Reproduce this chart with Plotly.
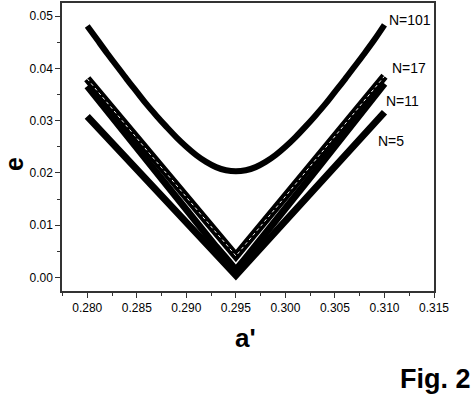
import plotly.graph_objects as go

a_vals = [0.280, 0.281, 0.282, 0.283, 0.284, 0.285, 0.286, 0.287, 0.288, 0.289,
          0.290, 0.291, 0.292, 0.293, 0.294, 0.295, 0.296, 0.297, 0.298, 0.299,
          0.300, 0.301, 0.302, 0.303, 0.304, 0.305, 0.306, 0.307, 0.308, 0.309, 0.310]

e_n5 = [0.0308, 0.0288, 0.0268, 0.0247, 0.0227, 0.0207, 0.0186, 0.0166, 0.0146, 0.0126,
        0.0105, 0.0085, 0.0065, 0.0045, 0.0024, 0.0004,
        0.0025, 0.0046, 0.0066, 0.0087, 0.0108, 0.0129, 0.0150, 0.0171, 0.0191,
        0.0212, 0.0233, 0.0254, 0.0275, 0.0296, 0.0316]

e_n11 = [0.0366, 0.0342, 0.0319, 0.0295, 0.0272, 0.0248, 0.0224, 0.0201, 0.0177, 0.0153,
         0.0130, 0.0106, 0.0083, 0.0059, 0.0037, 0.0014,
         0.0037, 0.0060, 0.0084, 0.0108, 0.0132, 0.0156, 0.0180, 0.0203, 0.0227,
         0.0251, 0.0275, 0.0299, 0.0323, 0.0347, 0.0371]

e_n17 = [0.0380, 0.0357, 0.0335, 0.0312, 0.0289, 0.0267, 0.0244, 0.0221, 0.0199, 0.0176,
         0.0153, 0.0131, 0.0108, 0.0086, 0.0064, 0.0041,
         0.0064, 0.0086, 0.0109, 0.0132, 0.0155, 0.0178, 0.0201, 0.0224, 0.0247,
         0.0270, 0.0293, 0.0316, 0.0339, 0.0362, 0.0385]

e_n101 = [0.0481, 0.0455, 0.0429, 0.0404, 0.0379, 0.0355, 0.0331, 0.0309, 0.0288, 0.0268,
          0.0250, 0.0234, 0.0221, 0.0211, 0.0205, 0.0203,
          0.0205, 0.0211, 0.0221, 0.0234, 0.0250, 0.0268, 0.0288, 0.0309, 0.0331,
          0.0355, 0.0379, 0.0404, 0.0429, 0.0455, 0.0483]

series_names = ["N=5", "N=11", "N=17", "N=101"]
label_x = [0.30911, 0.30995, 0.31056, 0.31025]
label_y = [0.0261, 0.0337, 0.0400, 0.0493]

x_ticks = [0.280, 0.285, 0.290, 0.295, 0.300, 0.305, 0.310, 0.315]
y_ticks = [0.00, 0.01, 0.02, 0.03, 0.04, 0.05]

fig = go.Figure()

series = [e_n5, e_n11, e_n17, e_n101]
widths = [7, 7, 8, 6]
shapes = ["linear", "linear", "linear", "spline"]
for name, ys, w, sh in zip(series_names, series, widths, shapes):
    fig.add_trace(go.Scatter(x=a_vals, y=ys, mode="lines", name=name,
                             line=dict(color="black", width=w, shape=sh), showlegend=False))

# white dotted core of the N=17 markers
fig.add_trace(go.Scatter(x=a_vals, y=e_n17, mode="lines", showlegend=False,
                         line=dict(color="white", width=1, dash="dot")))

for name, lx, ly in zip(series_names, label_x, label_y):
    fig.add_annotation(x=lx, y=ly, xref="x", yref="y", text=name, showarrow=False,
                       xanchor="left", yanchor="middle",
                       font=dict(family="Liberation Sans, Arial", size=14, color="black"))

fig.add_annotation(x=-0.129, y=0.441, xref="paper", yref="paper", text="<b>e</b>",
                   showarrow=False, textangle=-90, xanchor="center", yanchor="middle",
                   font=dict(family="Liberation Sans, Arial", size=25, color="black"))
fig.add_annotation(x=0.492, y=-0.162, xref="paper", yref="paper", text="<b>a'</b>",
                   showarrow=False, xanchor="center", yanchor="middle",
                   font=dict(family="Liberation Sans, Arial", size=26, color="black"))
fig.add_annotation(x=1.105, y=-0.307, xref="paper", yref="paper", text="<b>Fig. 2</b>",
                   showarrow=False, xanchor="right", yanchor="middle",
                   font=dict(family="Liberation Sans, Arial", size=27, color="black"))

axis_common = dict(showgrid=False, zeroline=False, showline=True, linecolor="#333333",
                   linewidth=1.5, mirror=True, ticks="outside", ticklen=5, tickwidth=1,
                   tickcolor="#333333",
                   tickfont=dict(family="Liberation Sans, Arial", size=12, color="black"))

fig.update_xaxes(range=[0.27745, 0.315], tickvals=x_ticks,
                 ticktext=[f"{v:.3f}" for v in x_ticks],
                 minor=dict(ticks="outside", ticklen=3, dtick=0.0025, tick0=0.2775,
                            tickcolor="#333333"),
                 **axis_common)
fig.update_yaxes(range=[-0.0026, 0.0525], tickvals=y_ticks,
                 ticktext=[f"{v:.2f}" for v in y_ticks],
                 minor=dict(ticks="outside", ticklen=3, dtick=0.005, tick0=0.0,
                            tickcolor="#333333"),
                 **axis_common)

fig.update_layout(width=474, height=398, margin=dict(l=62, r=40, t=1, b=107),
                  plot_bgcolor="white", paper_bgcolor="white", showlegend=False)

fig.write_html("out.html", config={"displayModeBar": False},
               post_script="document.body.style.margin='0px';document.body.style.overflow='hidden';")
